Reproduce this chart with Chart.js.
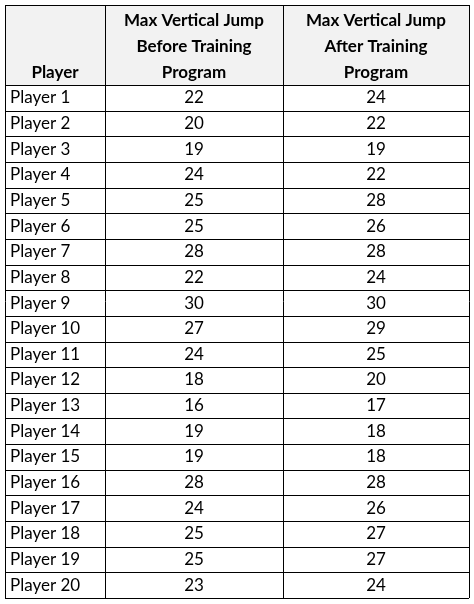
<!DOCTYPE html>
<html><head><meta charset="utf-8">
<script src="https://cdn.jsdelivr.net/npm/chart.js@4/dist/chart.umd.min.js"></script>
<style>html,body{margin:0;padding:0;background:#fff}</style>
</head><body>
<canvas id="c" width="474" height="604"></canvas>
<script>
const players = ["Player 1","Player 2","Player 3","Player 4","Player 5","Player 6","Player 7","Player 8","Player 9","Player 10","Player 11","Player 12","Player 13","Player 14","Player 15","Player 16","Player 17","Player 18","Player 19","Player 20"];
const before = [22,20,19,24,25,25,28,22,30,27,24,18,16,19,19,28,24,25,25,23];
const after = [24,22,19,22,28,26,28,24,30,29,25,20,17,18,18,28,26,27,27,24];
const headers = [["Player"],["Max Vertical Jump","Before Training","Program"],["Max Vertical Jump","After Training","Program"]];
const colEdges = [0,100,278,464];
const headerH = 3.12;

const FONT = "Lato, 'Open Sans', sans-serif";
const tablePlugin = {
  id:'table',
  afterDraw(chart){
    const ctx = chart.ctx, xs = chart.scales.x, ys = chart.scales.y;
    const X = v=>xs.getPixelForValue(v), Y = v=>ys.getPixelForValue(v);
    ctx.save();
    ctx.fillStyle = '#f2f2f2';
    ctx.fillRect(X(0), Y(0), X(464)-X(0), Y(headerH)-Y(0));
    ctx.strokeStyle = '#000'; ctx.lineWidth = 1;
    ctx.beginPath();
    colEdges.forEach(e=>{ const px=Math.round(X(e))+0.5; ctx.moveTo(px,Y(0)); ctx.lineTo(px,Y(headerH+players.length)); });
    for(let r=0;r<=players.length;r++){ const py=Math.round(Y(r===0?0:headerH+r))+0.5; ctx.moveTo(X(0),py); ctx.lineTo(X(464),py); }
    const py=Math.round(Y(headerH))+0.5; ctx.moveTo(X(0),py); ctx.lineTo(X(464),py);
    ctx.stroke();
    ctx.fillStyle = '#000';
    ctx.textBaseline = 'middle';
    ctx.font = 'bold 17px ' + FONT;
    ctx.textAlign = 'center';
    headers.forEach((lines,c)=>{
      const cx = (X(colEdges[c])+X(colEdges[c+1]))/2;
      const n = lines.length;
      lines.forEach((t,i)=>{ ctx.fillText(t, cx, Y(headerH) - 13 - (n-1-i)*26); });
    });
    ctx.font = '17px ' + FONT;
    players.forEach((p,i)=>{
      const cy = Y(headerH+i+0.5);
      ctx.textAlign='left'; ctx.fillText(p, X(0)+5, cy);
      ctx.textAlign='center';
      ctx.fillText(String(before[i]), (X(100)+X(278))/2, cy);
      ctx.fillText(String(after[i]), (X(278)+X(464))/2, cy);
    });
    ctx.restore();
  }
};
new Chart(document.getElementById('c'),{
  type:'scatter',
  data:{datasets:[
    {data:before.map((v,i)=>({x:189,y:headerH+i+0.5})),pointRadius:0},
    {data:after.map((v,i)=>({x:371,y:headerH+i+0.5})),pointRadius:0}
  ]},
  options:{responsive:false,animation:false,devicePixelRatio:1,
    layout:{padding:{left:5,right:5,top:5,bottom:6}},
    plugins:{legend:{display:false},tooltip:{enabled:false}},
    scales:{x:{type:'linear',min:0,max:464,display:false},
            y:{type:'linear',min:0,max:headerH+players.length,reverse:true,display:false}}},
  plugins:[tablePlugin]
});
</script>
</body></html>
